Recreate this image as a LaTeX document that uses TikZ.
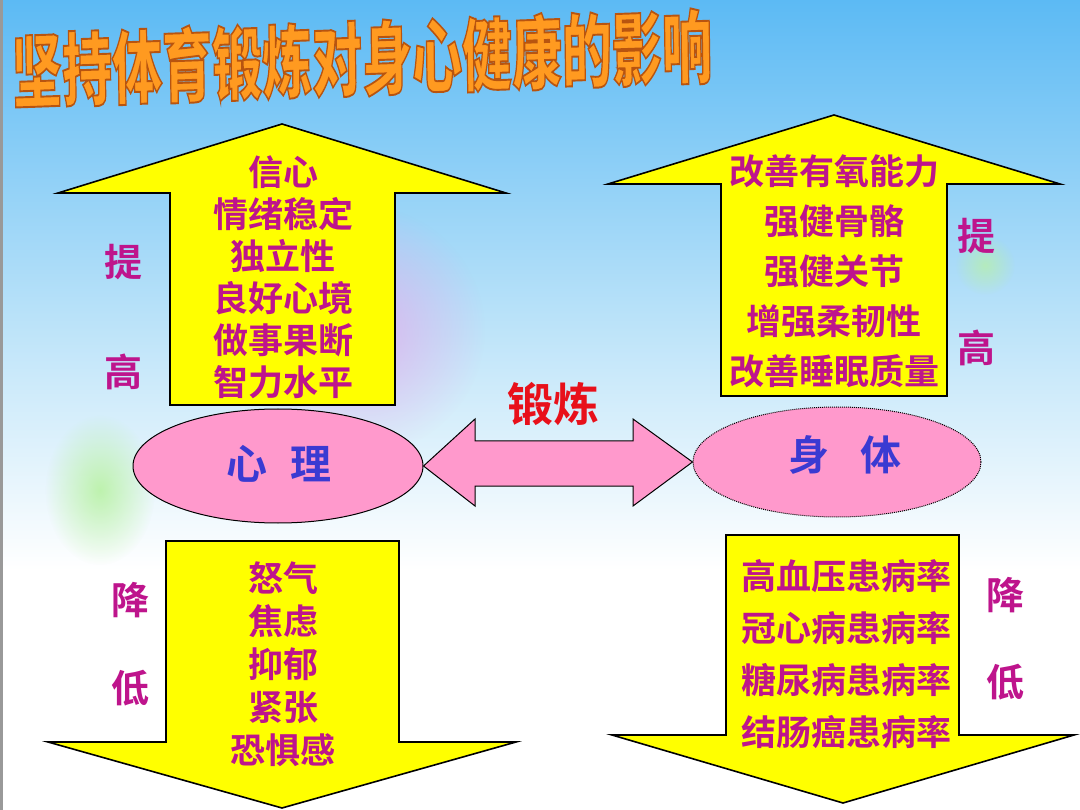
\documentclass[tikz,border=0pt]{standalone}
\usepackage{fontspec}
\newfontfamily\cjk{Noto Sans CJK SC}[BoldFont={Noto Sans CJK SC Bold}]
\newfontfamily\cjktitle{Noto Sans CJK SC Black}
\usetikzlibrary{fadings,shapes.geometric}
\tikzfading[name=softblob, inner color=transparent!0, outer color=transparent!100]
\definecolor{bgtop}{RGB}{92,186,244}
\definecolor{bgmid}{RGB}{204,234,250}
\definecolor{arrowyellow}{RGB}{255,255,0}
\definecolor{pinkfill}{RGB}{255,153,204}
\definecolor{itemtext}{RGB}{190,20,140}
\definecolor{bluetext}{RGB}{58,58,210}
\definecolor{redtext}{RGB}{232,16,26}
\definecolor{titlefill}{RGB}{255,154,32}
\definecolor{blobpink}{RGB}{228,170,235}
\definecolor{blobgreen}{RGB}{185,242,165}
\newcommand{\outlinedtitle}[1]{\special{pdf:literal direct 2 Tr 1.2 w 0.72 0.33 0.06 RG}#1\special{pdf:literal direct 0 Tr}}
\tikzset{
  bigarrow/.style={fill=arrowyellow, draw=black, line width=1.6pt, line join=miter},
  oval/.style={ellipse, fill=pinkfill, draw=black, line width=1pt, inner sep=0pt},
  itemlist/.style={font=\cjk\bfseries\fontsize{35}{42}\selectfont, text=itemtext, align=center, inner sep=0pt},
  sideword/.style={font=\cjk\bfseries\fontsize{38}{40}\selectfont, text=itemtext, inner sep=0pt},
  centerword/.style={font=\cjk\bfseries\fontsize{41}{42}\selectfont, text=bluetext, inner sep=0pt},
}
\begin{document}
\begin{tikzpicture}[x=1pt,y=-1pt]
\useasboundingbox (0,0) rectangle (1080,810);
% background
\shade[top color=bgtop, bottom color=bgmid] (0,0) rectangle (1080,380);
\shade[top color=bgmid, bottom color=white] (0,380) rectangle (1080,570);
\fill[white] (0,570) rectangle (1080,810);
\fill[gray!80] (0,0) rectangle (3,810);
% soft blobs
\fill[blobpink, path fading=softblob, opacity=0.8] (360,330) circle (125);
\fill[blobgreen, path fading=softblob, opacity=0.9] (100,490) ellipse (55 and 75);
\fill[blobgreen, path fading=softblob, opacity=0.7] (985,265) circle (30);
% title
\node (title)[font=\cjktitle\fontsize{50}{50}\selectfont, text=titlefill, inner sep=0pt, yscale=1.6, rotate=1.3]
  at (362,58) {\outlinedtitle{坚持体育锻炼对身心健康的影响}};
% arrows
\draw[bigarrow] (170,405) -- (170,193) -- (58,193) -- (282,124) -- (506,193) -- (395,193) -- (395,405) -- cycle;
\draw[bigarrow] (721,396) -- (721,184) -- (608,184) -- (834,115) -- (1060,184) -- (947,184) -- (947,396) -- cycle;
\draw[bigarrow] (166,541) -- (166,742) -- (48,742) -- (282,808) -- (516,742) -- (399,742) -- (399,541) -- cycle;
\draw[bigarrow] (726,535) -- (726,735) -- (612,735) -- (843,803) -- (1074,735) -- (959,735) -- (959,535) -- cycle;
% ellipses
\node (mind)[oval, minimum width=290pt, minimum height=114pt] at (278,466) {};
\node (body)[oval, densely dotted, minimum width=288pt, minimum height=110pt] at (837,462) {};
\node[centerword] at (279,464) {心\hspace{0.55em}理};
\node[centerword] at (845,455) {身\hspace{0.75em}体};
% double arrow
\coordinate (la) at (mind.east);
\coordinate (ra) at (body.west);
\draw[fill=pinkfill, draw=black, line width=1pt]
  (la) -- (475,419) -- (475,441) -- (633,441) -- (633,419) -- (ra) -- (633,506) -- (633,486) -- (475,486) -- (475,506) -- cycle;
\node (exercise)[font=\cjk\bfseries\fontsize{46}{46}\selectfont, text=redtext, inner sep=0pt] at (553,404) {锻炼};
% lists
\node (psyup)[itemlist] at (283,277) {信心\\情绪稳定\\独立性\\良好心境\\做事果断\\智力水平};
\node (phyup)[itemlist, font=\cjk\bfseries\fontsize{35}{50}\selectfont] at (834,271) {改善有氧能力\\强健骨骼\\强健关节\\增强柔韧性\\改善睡眠质量};
\node (psydown)[itemlist, font=\cjk\bfseries\fontsize{35}{43}\selectfont] at (283,664) {怒气\\焦虑\\抑郁\\紧张\\恐惧感};
\node (phydown)[itemlist, font=\cjk\bfseries\fontsize{35}{52}\selectfont] at (846,654) {高血压患病率\\冠心病患病率\\糖尿病患病率\\结肠癌患病率};
% side words
\node[sideword] at (123,262) {提};
\node[sideword] at (123,372) {高};
\node[sideword] at (976,236) {提};
\node[sideword] at (976,348) {高};
\node[sideword] at (130,600) {降};
\node[sideword] at (130,688) {低};
\node[sideword] at (1005,595) {降};
\node[sideword] at (1005,682) {低};
\end{tikzpicture}
\end{document}
